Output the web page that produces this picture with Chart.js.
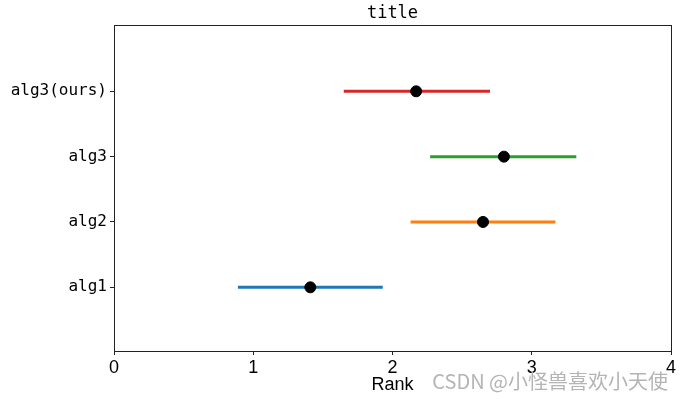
<!DOCTYPE html>
<html>
<head>
<meta charset="utf-8">
<script src="https://cdn.jsdelivr.net/npm/chart.js@4.4.0/dist/chart.umd.min.js"></script>
<style>
  html, body { margin: 0; padding: 0; background: #fff; }
</style>
</head>
<body>
<canvas id="rankChart" width="684" height="400"></canvas>
<script>
var algs = ['alg1', 'alg2', 'alg3', 'alg3(ours)'];
var meanRank = [1.41, 2.65, 2.80, 2.17];
var lowerRank = [0.89, 2.13, 2.27, 1.65];
var upperRank = [1.93, 3.17, 3.32, 2.70];
var lineColors = ['#1f77b4', '#ff7f0e', '#2ca02c', '#d62728'];
var xTicks = [0, 1, 2, 3, 4];

var datasets = [];
datasets.push({
    type: 'scatter',
    label: 'mean',
    order: 0,
    data: meanRank.map(function(v, i) { return {x: v, y: i}; }),
    backgroundColor: '#000',
    borderColor: '#000',
    pointRadius: 5.5,
    pointHoverRadius: 5.5
});
for (var i = 0; i < algs.length; i++) {
    datasets.push({
        type: 'line',
        label: algs[i],
        order: 1,
        data: [{x: lowerRank[i], y: i}, {x: upperRank[i], y: i}],
        borderColor: lineColors[i],
        borderWidth: 3,
        pointRadius: 0,
        fill: false
    });
}

// frame round the plot like matplotlib, title over the plot, watermark
var frame = {
    id: 'frame',
    afterDraw: function(chart) {
        var a = chart.chartArea, ctx = chart.ctx;
        ctx.save();
        ctx.strokeStyle = '#222';
        ctx.lineWidth = 1;
        ctx.strokeRect(a.left + 0.5, a.top + 0.5, a.right - a.left, a.bottom - a.top);
        ctx.fillStyle = '#000';
        ctx.font = '17px "DejaVu Sans Mono"';
        ctx.textAlign = 'center';
        ctx.textBaseline = 'middle';
        ctx.fillText('title', (a.left + a.right) / 2, 14);
        ctx.fillStyle = '#b4b4b4';
        ctx.font = '20px "Noto Sans CJK SC"';
        ctx.textAlign = 'right';
        ctx.fillText('CSDN @小怪兽喜欢小天使', 668, 381);
        ctx.restore();
    }
};

var ctx = document.getElementById('rankChart');
var rankChart = new Chart(ctx, {
    type: 'scatter',
    data: {datasets: datasets},
    plugins: [frame],
    options: {
        responsive: false,
        animation: false,
        layout: {padding: {left: 0, right: 13, top: 25, bottom: 0}},
        plugins: {
            legend: {display: false},
            tooltip: {enabled: false},
            title: {display: false}
        },
        scales: {
            x: {
                type: 'linear',
                min: 0, max: 4,
                afterBuildTicks: function(s) { s.ticks = xTicks.map(function(v) { return {value: v}; }); },
                afterFit: function(s) { s.height = 49; },
                grid: {drawOnChartArea: false, tickLength: 4, tickColor: '#222'},
                border: {color: '#222'},
                ticks: {color: '#000', padding: 2, maxRotation: 0,
                        font: {family: '"Liberation Sans"', size: 18}},
                title: {display: true, text: 'Rank', color: '#000',
                        font: {family: '"Liberation Sans"', size: 18},
                        padding: {top: 0, bottom: 4}}
            },
            y: {
                type: 'linear',
                min: -0.975, max: 4.015,
                afterBuildTicks: function(s) { s.ticks = algs.map(function(a, i) { return {value: i}; }); },
                afterFit: function(s) { s.width = 114; },
                grid: {drawOnChartArea: false, tickLength: 4, tickColor: '#222'},
                border: {color: '#222'},
                ticks: {
                    color: '#000', padding: 3,
                    font: {family: '"DejaVu Sans Mono"', size: 16},
                    callback: function(v) { return algs[v]; }
                }
            }
        }
    }
});
</script>
</body>
</html>
